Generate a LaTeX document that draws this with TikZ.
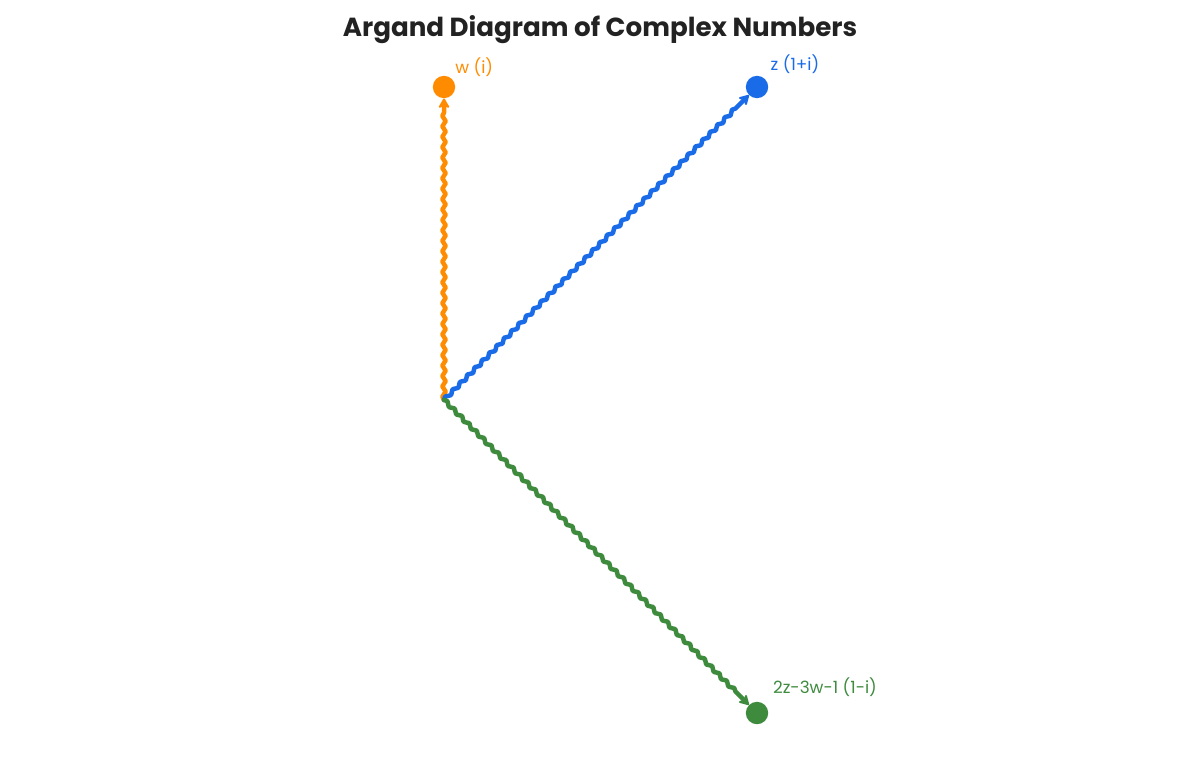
\documentclass[tikz,border=0pt]{standalone}
\usepackage{fontspec}
\setmainfont{Poppins}
\usetikzlibrary{positioning,arrows.meta,decorations.pathmorphing}
\definecolor{wcol}{HTML}{FF8C00}
\definecolor{zcol}{HTML}{1A6BE8}
\definecolor{rcol}{HTML}{3E8B3E}
\definecolor{titlecol}{HTML}{222222}
\tikzstyle{point}=[circle, inner sep=0pt, minimum size=5.6mm]
\tikzstyle{tag}=[font=\fontsize{12}{14}\selectfont, inner sep=1pt]

\begin{document}
\begin{tikzpicture}[
        x=7.825cm, y=7.825cm,
        line/.style={-{Stealth[length=3mm, width=3.4mm, round]}, line width=3.2pt,
          line cap=round, line join=round,
          decorate, decoration={snake, amplitude=.4mm, segment length=2.6mm, post length=3.5mm}},
      ]
      \useasboundingbox (-11.1cm,-9.075cm) rectangle (18.9cm,10cm);
      \coordinate (Origin) at (0,0);
      \node (Title) at (3.9cm,9.25cm)
            {\fontsize{18.6}{22}\selectfont\bfseries\color{titlecol}Argand Diagram of Complex Numbers};
      \node (W) [point, fill=wcol] at (0,1) {};
      \node (Z) [point, fill=zcol] at (1,1) {};
      \node (R) [point, fill=rcol] at (1,-1) {};
      \node (Wlabel) [tag, text=wcol, anchor=south west] at ([xshift=2.4mm,yshift=2.2mm]W.center) {w (i)};
      \node (Zlabel) [tag, text=zcol, anchor=south west] at ([xshift=3mm,yshift=2.8mm]Z.center) {z (1+i)};
      \node (Rlabel) [tag, text=rcol, anchor=south west] at ([xshift=3.6mm,yshift=3.6mm]R.center) {2z-3w-1 (1-i)};
      \draw [line, wcol] (Origin) to (W);
      \draw [line, zcol] (Origin) to (Z);
      \draw [line, rcol] (Origin) to (R);
    \end{tikzpicture}
\end{document}
